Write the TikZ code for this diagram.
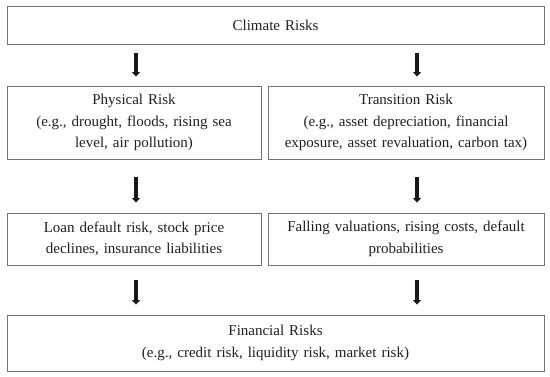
\documentclass[tikz,border=0pt]{standalone}
\usepackage{fontspec}
\setmainfont{Liberation Serif}
\usepackage{tikz}
\usetikzlibrary{positioning,arrows.meta,calc}
\usepackage{xcolor}

\begin{document}
\begin{tikzpicture}[x=1pt,y=-1pt,
  box/.style={draw=black!55,line width=0.9pt,inner sep=0pt,align=center,text=black!88,
    font=\fontsize{15}{21.5}\selectfont},
  arr/.style={-{Triangle[width=8pt,length=4.5pt]},line width=3.4pt,black!90}]
\useasboundingbox (0,0) rectangle (550,376);
\node[box,text width=537pt,minimum height=38pt] (climate) at (275.5,25) {Climate Risks};
\node[box,text width=254pt,minimum height=73pt] (physical) at (134,122.5) {Physical Risk\\(e.g., drought, floods, rising sea\\level, air pollution)};
\node[box,text width=276pt,minimum height=73pt] (transition) at (406,122.5) {Transition Risk\\(e.g., asset depreciation, financial\\exposure, asset revaluation, carbon tax)};
\node[box,text width=254pt,minimum height=52pt] (loan) at (134,239) {Loan default risk, stock price\\declines, insurance liabilities};
\node[box,text width=276pt,minimum height=52pt] (falling) at (406,239) {Falling valuations, rising costs, default\\probabilities};
\node[box,text width=537pt,minimum height=56pt] (financial) at (275.5,343) {Financial Risks\\(e.g., credit risk, liquidity risk, market risk)};
\coordinate (colL) at (136,0);
\coordinate (colR) at (417,0);
\draw[arr] ([yshift=-9pt]climate.south -| colL) -- ([yshift=9pt]physical.north -| colL);
\draw[arr] ([yshift=-9pt]climate.south -| colR) -- ([yshift=9pt]transition.north -| colR);
\draw[arr] ([yshift=-18pt]physical.south -| colL) -- ([yshift=10pt]loan.north -| colL);
\draw[arr] ([yshift=-18pt]transition.south -| colR) -- ([yshift=10pt]falling.north -| colR);
\draw[arr] ([yshift=-15pt]loan.south -| colL) -- ([yshift=10pt]financial.north -| colL);
\draw[arr] ([yshift=-15pt]falling.south -| colR) -- ([yshift=10pt]financial.north -| colR);
\end{tikzpicture}
\end{document}
